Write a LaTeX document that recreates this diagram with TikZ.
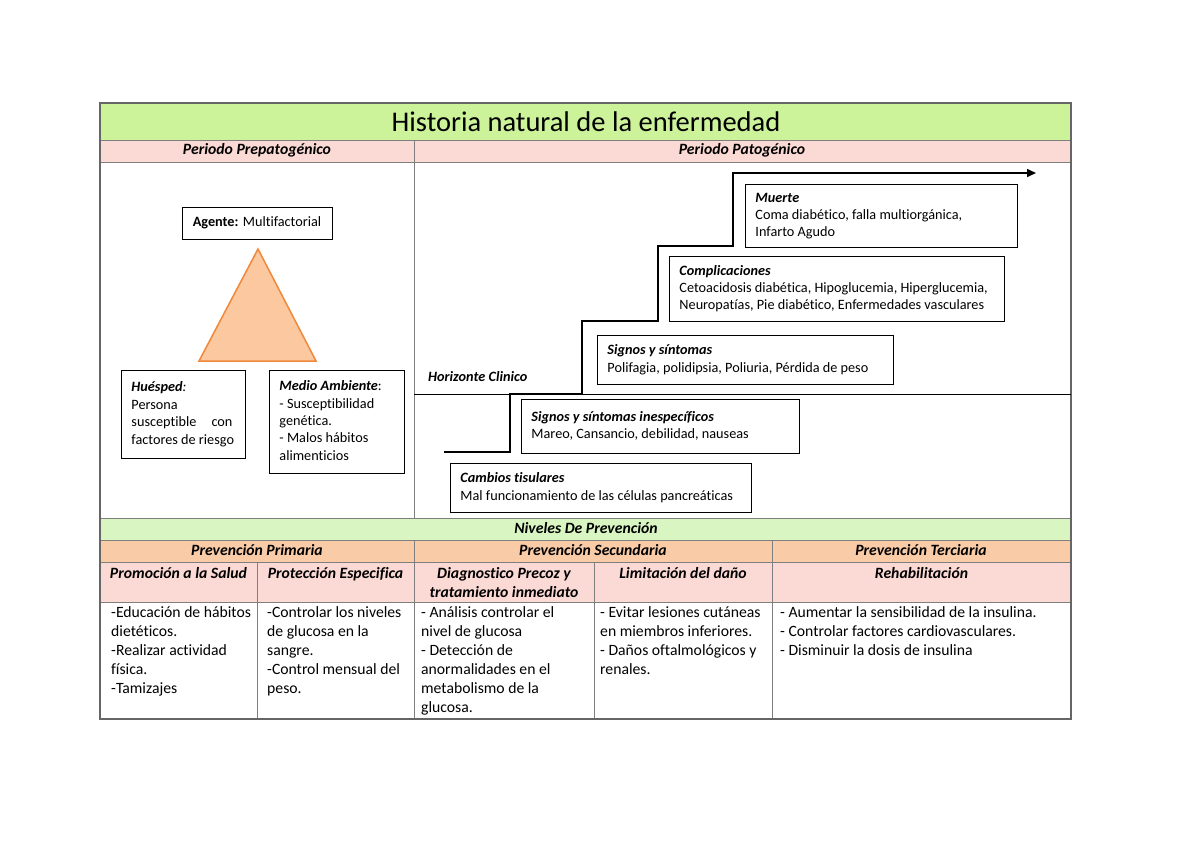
\documentclass[tikz,border=0pt]{standalone}
\usepackage{fontspec}
\setmainfont{Carlito}[Ligatures=NoCommon]
\usetikzlibrary{arrows.meta}
\definecolor{titlegreen}{HTML}{CCF29A}
\definecolor{lightgreen}{HTML}{D9F5C2}
\definecolor{hpink}{HTML}{FBD9D4}
\definecolor{horange}{HTML}{F9CBA7}
\definecolor{trifill}{HTML}{FBC8A0}
\definecolor{tridraw}{HTML}{F0883C}
\definecolor{gridc}{HTML}{7F7F7F}
\newcommand\fsbig{\fontsize{28.5}{34}\selectfont}
\newcommand\fsmid{\fontsize{15.7}{19.15}\selectfont}
\newcommand\fssml{\fontsize{14.25}{17.4}\selectfont}
\newcommand\bxt[2]{\makebox[#1][l]{\begin{tabular}{@{}l@{}}#2\end{tabular}}}
\newcommand\bfit[1]{\textbf{\textit{#1}}}
\begin{document}
\begin{tikzpicture}[x=1pt,y=-1pt,
  gridline/.style={draw=gridc,line width=1pt},
  hdr/.style={font=\fsmid\bfseries\itshape,anchor=base,inner sep=0pt},
  cell/.style={font=\fsmid,anchor=north west,align=left,inner sep=0pt},
  ebox/.style={draw=black,line width=0.9pt,anchor=north west,font=\fssml,inner xsep=10pt,inner ysep=0pt},
  stair/.style={draw=black,line width=1.6pt},
]
\useasboundingbox (0,0) rectangle (1200,849);
\fill[white] (0,0) rectangle (1200,849);
% band fills
\fill[titlegreen] (100,103) rectangle (1071,140);
\fill[hpink] (100,140) rectangle (1071,162);
\fill[lightgreen] (100,518) rectangle (1071,540);
\fill[horange] (100,540) rectangle (1071,562);
\fill[hpink] (100,562) rectangle (1071,602);
% grid
\draw[gridline] (100,140) -- (1071,140);
\draw[gridline] (100,162) -- (1071,162);
\draw[gridline] (100,518) -- (1071,518);
\draw[gridline] (100,540) -- (1071,540);
\draw[gridline] (100,562) -- (1071,562);
\draw[gridline] (100,602) -- (1071,602);
\draw[gridline] (414,140) -- (414,518);
\draw[gridline] (414,540) -- (414,719);
\draw[gridline] (772,540) -- (772,719);
\draw[gridline] (257,562) -- (257,719);
\draw[gridline] (594,562) -- (594,719);
\draw[draw=gridc!80!black,line width=1.2pt] (100,103) rectangle (1071,719);
% horizon
\coordinate (hzA) at (414,394);
\coordinate (hzB) at (1071,394);
\draw[black,line width=1pt] (hzA) -- (hzB);
% headers
\node[font=\fsbig,anchor=base,inner sep=0pt] (title) at (586,131) {Historia natural de la enfermedad};
\node[hdr] (prepat) at (257,154) {Periodo Prepatogénico};
\node[hdr] (pat) at (742,154) {Periodo Patogénico};
\node[hdr] (niveles) at (586,533) {Niveles De Prevención};
\node[hdr] (prim) at (257,555) {Prevención Primaria};
\node[hdr] (sec) at (593,555) {Prevención Secundaria};
\node[hdr] (ter) at (921,555) {Prevención Terciaria};
\node[hdr] (promo) at (178.5,578) {Promoción a la Salud};
\node[hdr] (prot) at (335.5,578) {Protección Especifica};
\node[hdr,align=center,anchor=north] (diag) at (504,564.6) {\strut Diagnostico Precoz y\\ tratamiento inmediato};
\node[hdr] (limit) at (683,578) {Limitación del daño};
\node[hdr] (rehab) at (921.5,578) {Rehabilitación};
% table content
\node[cell] (c1) at (111,603.6) {\strut-Educación de hábitos\\ dietéticos.\\ -Realizar actividad\\ física.\\ -Tamizajes};
\node[cell] (c2) at (267,603.6) {\strut-Controlar los niveles\\ de glucosa en la\\ sangre.\\ -Control mensual del\\ peso.};
\node[cell] (c3) at (421,603.6) {\strut- Análisis controlar el\\ nivel de glucosa\\ - Detección de\\ anormalidades en el\\ metabolismo de la\\ glucosa.};
\node[cell] (c4) at (600,603.6) {\strut- Evitar lesiones cutáneas\\ en miembros inferiores.\\ - Daños oftalmológicos y\\ renales.};
\node[cell] (c5) at (780,603.6) {\strut- Aumentar la sensibilidad de la insulina.\\ - Controlar factores cardiovasculares.\\ - Disminuir la dosis de insulina};
% left panel
\node[ebox,minimum width=150pt,minimum height=32pt,anchor=center] (agente) at (257,223) {\textbf{Agente:} Multifactorial};
\coordinate (tA) at (258,249);
\coordinate (tB) at (316,361);
\coordinate (tC) at (199,361);
\draw[fill=trifill,draw=tridraw,line width=1.5pt,line join=miter] (tA) -- (tB) -- (tC) -- cycle;
\node[ebox,minimum width=124pt,minimum height=88pt] (huesped) at (121,370) {\bxt{104pt}{\bfit{Huésped}\textit{:}\\ Persona\\ \hbox to 101pt{susceptible\hfill con}\\ factores de riesgo}};
\node[ebox,minimum width=135pt,minimum height=103pt] (medio) at (269,370) {\bxt{115pt}{\bfit{Medio Ambiente}:\\ - Susceptibilidad\\ genética.\\ - Malos hábitos\\ alimenticios}};
% right panel boxes
\node[ebox,minimum width=272pt,minimum height=63pt] (muerte) at (745,184) {\bxt{252pt}{\bfit{Muerte}\\ Coma diabético, falla multiorgánica,\\ Infarto Agudo}};
\node[ebox,minimum width=335pt,minimum height=65pt] (compl) at (669,256) {\bxt{315pt}{\bfit{Complicaciones}\\ Cetoacidosis diabética, Hipoglucemia, Hiperglucemia,\\ Neuropatías, Pie diabético, Enfermedades vasculares}};
\node[ebox,minimum width=296pt,minimum height=49pt] (signos) at (597,335) {\bxt{276pt}{\bfit{Signos y síntomas}\\ Polifagia, polidipsia, Poliuria, Pérdida de peso}};
\node[ebox,minimum width=278pt,minimum height=54pt] (inesp) at (521,399) {\bxt{258pt}{\bfit{Signos y síntomas inespecíficos}\\ Mareo, Cansancio, debilidad, nauseas}};
\node[ebox,minimum width=301pt,minimum height=49pt] (cambios) at (450,463) {\bxt{281pt}{\bfit{Cambios tisulares}\\ Mal funcionamiento de las células pancreáticas}};
\node[font=\fssml\bfseries\itshape,anchor=base west,inner sep=0pt] (horiz) at (428,381.5) {Horizonte Clinico};
% staircase
\coordinate (s0) at (444,452);
\coordinate (s1) at (510,452);
\coordinate (s2) at (510,394);
\coordinate (s3) at (582,394);
\coordinate (s4) at (582,321);
\coordinate (s5) at (658,321);
\coordinate (s6) at (658,246);
\coordinate (s7) at (733,246);
\coordinate (s8) at (733,173);
\coordinate (s9) at (1036,173);
\draw[stair,-{Triangle[length=9pt,width=8pt]}] (s0) -- (s1) -- (s2) -- (s3) -- (s4) -- (s5) -- (s6) -- (s7) -- (s8) -- (s9);
\end{tikzpicture}
\end{document}
